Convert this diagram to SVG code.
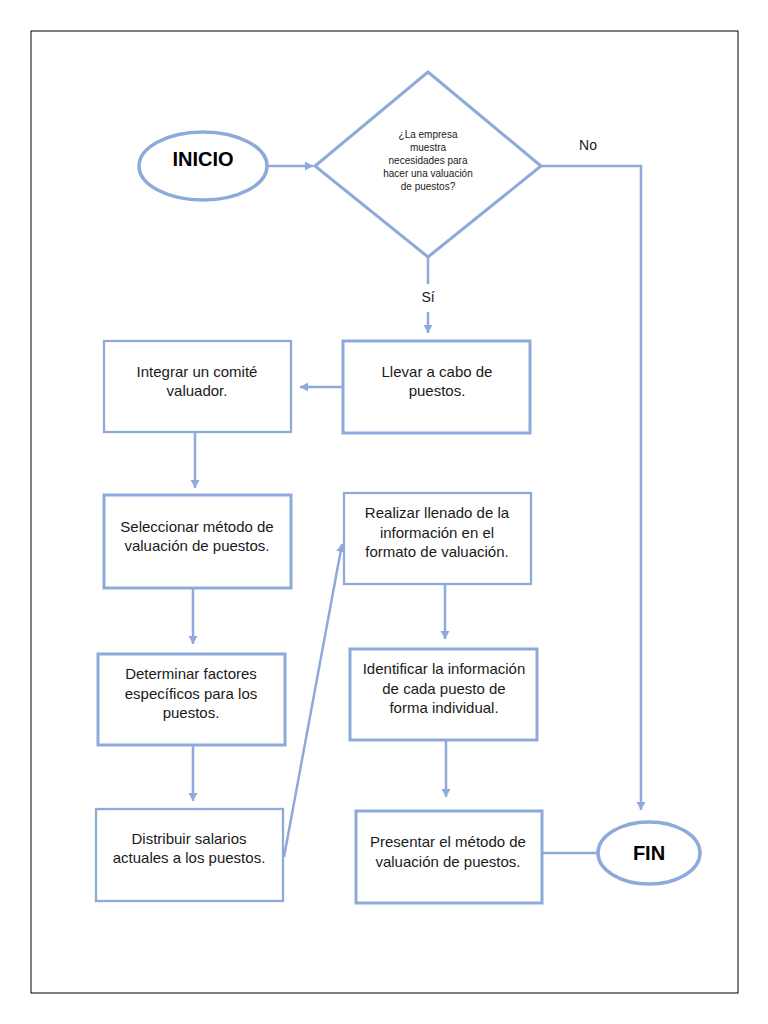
<svg xmlns="http://www.w3.org/2000/svg" width="768" height="1024" viewBox="0 0 768 1024">
<defs>
<style>
.box{fill:#fff;stroke:#8eaadb;stroke-width:3}
.thin{stroke-width:2.3}
.oval{fill:#fff;stroke:#8eaadb;stroke-width:3.5}
.conn{fill:none;stroke:#8eaadb;stroke-width:2.5}
.t{font-family:"Liberation Sans",Arial,sans-serif;font-size:15px;fill:#1a1a1a;text-anchor:middle}
.q{font-family:"Liberation Sans",Arial,sans-serif;font-size:10px;fill:#1a1a1a;text-anchor:middle}
.lbl{font-family:"Liberation Sans",Arial,sans-serif;font-size:14px;fill:#1a1a1a;text-anchor:middle}
.big{font-family:"Liberation Sans",Arial,sans-serif;font-size:20px;font-weight:bold;fill:#000;text-anchor:middle}
</style>
<marker id="arr" markerUnits="userSpaceOnUse" markerWidth="10" markerHeight="10" refX="8" refY="4.5" orient="auto">
<path d="M0,0 L8,4.5 L0,9 z" fill="#8eaadb"/>
</marker>
</defs>
<rect x="0" y="0" width="768" height="1024" fill="#fff"/>
<rect x="31" y="31" width="707" height="962" fill="none" stroke="#000" stroke-width="1"/>

<g id="connectors">
<line class="conn" x1="267" y1="166" x2="313" y2="166" marker-end="url(#arr)"/>
<polyline class="conn" points="541,166 641,166 641,810" marker-end="url(#arr)"/>
<line class="conn" x1="428" y1="257" x2="428" y2="284"/>
<line class="conn" x1="428" y1="312" x2="428" y2="333" marker-end="url(#arr)"/>
<line class="conn" x1="343" y1="387" x2="300" y2="387" marker-end="url(#arr)"/>
<line class="conn" x1="195" y1="432" x2="195" y2="488" marker-end="url(#arr)"/>
<line class="conn" x1="193" y1="588" x2="193" y2="644" marker-end="url(#arr)"/>
<line class="conn" x1="193" y1="745" x2="193" y2="801" marker-end="url(#arr)"/>
<line class="conn" x1="284" y1="857" x2="342" y2="544" marker-end="url(#arr)"/>
<line class="conn" x1="445" y1="584" x2="445" y2="639" marker-end="url(#arr)"/>
<line class="conn" x1="446" y1="740" x2="446" y2="797" marker-end="url(#arr)"/>
<line class="conn" x1="542" y1="853" x2="598" y2="853"/>
<text class="lbl" x="588" y="150">No</text>
<text class="lbl" x="428" y="302">Sí</text>
</g>

<g id="inicio">
<ellipse class="oval" cx="203" cy="166" rx="64" ry="34"/>
<text class="big" x="203" y="166">INICIO</text>
</g>

<g id="decision">
<polygon class="box" points="428,72 541,166 428,257 315,166"/>
<text class="q" x="428" y="138">¿La empresa</text>
<text class="q" x="428" y="151">muestra</text>
<text class="q" x="428" y="164">necesidades para</text>
<text class="q" x="428" y="177">hacer una valuación</text>
<text class="q" x="428" y="190">de puestos?</text>
</g>

<g id="llevar">
<rect class="box" x="343" y="341" width="187" height="92"/>
<text class="t" x="437" y="377">Llevar a cabo de</text>
<text class="t" x="437" y="396">puestos.</text>
</g>

<g id="integrar">
<rect class="box thin" x="104" y="341" width="187" height="91"/>
<text class="t" x="197" y="377">Integrar un comité</text>
<text class="t" x="197" y="396">valuador.</text>
</g>

<g id="seleccionar">
<rect class="box" x="104" y="495" width="187" height="93"/>
<text class="t" x="197" y="532">Seleccionar método de</text>
<text class="t" x="197" y="551">valuación de puestos.</text>
</g>

<g id="realizar">
<rect class="box thin" x="344" y="493" width="187" height="91"/>
<text class="t" x="437" y="518">Realizar llenado de la</text>
<text class="t" x="437" y="538">información en el</text>
<text class="t" x="437" y="557">formato de valuación.</text>
</g>

<g id="determinar">
<rect class="box" x="98" y="654" width="187" height="91"/>
<text class="t" x="191" y="679">Determinar factores</text>
<text class="t" x="191" y="699">específicos para los</text>
<text class="t" x="191" y="718">puestos.</text>
</g>

<g id="identificar">
<rect class="box" x="350" y="649" width="187" height="91"/>
<text class="t" x="444" y="674">Identificar la información</text>
<text class="t" x="444" y="694">de cada puesto de</text>
<text class="t" x="444" y="713">forma individual.</text>
</g>

<g id="distribuir">
<rect class="box thin" x="96" y="809" width="187" height="92"/>
<text class="t" x="189" y="844">Distribuir salarios</text>
<text class="t" x="189" y="863">actuales a los puestos.</text>
</g>

<g id="presentar">
<rect class="box" x="356" y="811" width="186" height="92"/>
<text class="t" x="448" y="847">Presentar el método de</text>
<text class="t" x="448" y="867">valuación de puestos.</text>
</g>

<g id="fin">
<ellipse class="oval" cx="649" cy="853" rx="51" ry="31"/>
<text class="big" x="649" y="860">FIN</text>
</g>
</svg>
